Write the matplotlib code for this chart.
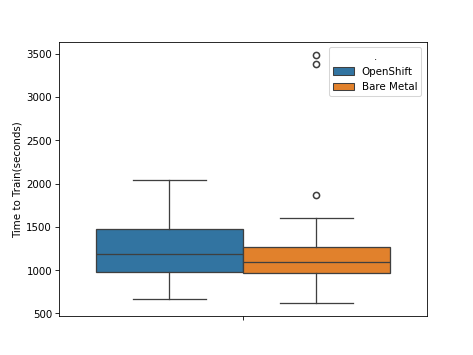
import matplotlib
matplotlib.use("Agg")
import matplotlib.pyplot as plt
from matplotlib.patches import Patch

# Data
groups = ["OpenShift", "Bare Metal"]
colors = ["#3274a1", "#e1812c"]
whisker_low = [660, 614]
q1 = [977, 969]
median = [1182, 1089]
q3 = [1469, 1270]
whisker_high = [2046, 1596]
outliers = [[], [1872, 3380, 3490]]
category_labels = [""]
ylabel = "Time to Train(seconds)"
legend_title = "."

fig, ax = plt.subplots(figsize=(6.4, 4.8), dpi=74.06)

line_color = "#3f3f3f"
positions = [-0.2, 0.2]
stats = []
for i, g in enumerate(groups):
    stats.append(dict(label=g, whislo=whisker_low[i], q1=q1[i], med=median[i],
                      q3=q3[i], whishi=whisker_high[i], fliers=outliers[i]))

bp = ax.bxp(stats, positions=positions, widths=0.4, patch_artist=True,
            manage_ticks=False,
            boxprops=dict(edgecolor=line_color, linewidth=1.25),
            medianprops=dict(color=line_color, linewidth=1.25),
            whiskerprops=dict(color=line_color, linewidth=1.25),
            capprops=dict(color=line_color, linewidth=1.25),
            flierprops=dict(marker="o", markerfacecolor="none",
                            markeredgecolor=line_color, markersize=6,
                            markeredgewidth=1.5),
            capwidths=0.2)
for patch, c in zip(bp["boxes"], colors):
    patch.set_facecolor(c)

ax.set_xlim(-0.5, 0.5)
ax.set_xticks([0])
ax.set_xticklabels(category_labels)
ax.set_ylabel(ylabel)

handles = [Patch(facecolor=c, edgecolor=line_color, label=g) for g, c in zip(groups, colors)]
ax.legend(handles=handles, title=legend_title, loc="upper right")

fig.savefig("out.png", dpi=74.06)
